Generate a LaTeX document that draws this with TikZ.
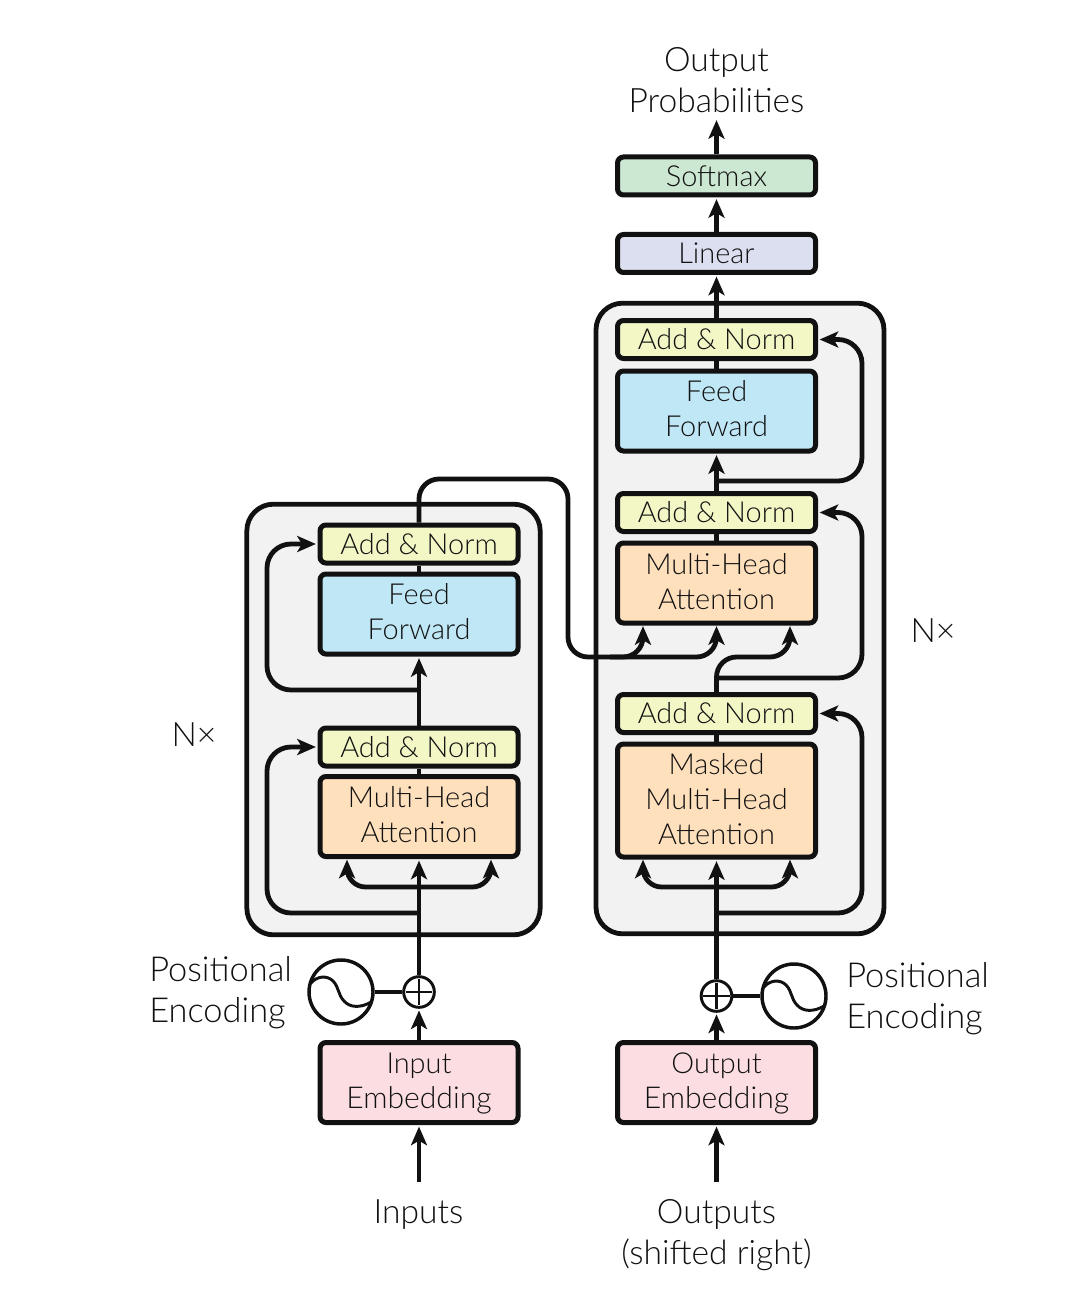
\documentclass[tikz,border=0pt]{standalone}
\usepackage{fontspec}
\setmainfont{Lato}[UprightFont=* Light]
\usetikzlibrary{arrows.meta,positioning}
\definecolor{ink}{HTML}{111111}
\definecolor{cAN}{HTML}{F3F6C5}
\definecolor{cFF}{HTML}{C0E7F6}
\definecolor{cMH}{HTML}{FFE0BD}
\definecolor{cEM}{HTML}{FBDDE2}
\definecolor{cSM}{HTML}{CCE7D2}
\definecolor{cLN}{HTML}{DCDFF0}
\definecolor{cBG}{HTML}{F2F2F2}
\newcommand{\wideword}[1]{{\fontsize{22.6}{26.25}\selectfont #1}}
\tikzset{
  stk/.style={draw=ink,line width=3.75pt,rounded corners=4.5pt,align=center,text=ink,inner sep=0pt,
     minimum width=148.5pt,font=\fontsize{21.7}{26.25}\selectfont},
  an/.style={stk,fill=cAN,minimum height=28.5pt},
  tall/.style={stk,minimum height=60pt},
  thin/.style={stk,minimum height=28.5pt},
  big/.style={draw=ink,line width=3.6pt,fill=cBG,rounded corners=20pt},
  lab/.style={align=center,text=ink,inner sep=0pt,font=\fontsize{25.2}{30.75}\selectfont},
  labl/.style={lab,align=left,anchor=west,font=\fontsize{25.8}{30.75}\selectfont},
  wire/.style={draw=ink,line width=3.6pt,rounded corners=14pt},
  wirea/.style={wire,-{Stealth[length=14pt,width=12pt,inset=3.5pt]},shorten >=1.2pt},
  pluss/.style={circle,draw=ink,line width=2.2pt,fill=white,minimum size=23pt,inner sep=0pt},
  sine/.style={circle,draw=ink,line width=2.6pt,fill=white,minimum size=48pt,inner sep=0pt},
  sinecurve/.style={draw=ink,line width=2.2pt},
  plusbar/.style={draw=ink,line width=1.6pt,shorten >=2.8pt,shorten <=2.8pt}
}
\begin{document}
\begin{tikzpicture}[x=.75pt,y=-.75pt]
\useasboundingbox (0,0) rectangle (1088,1294);
\fill[white] (0,0) rectangle (1088,1294);
% stack frames
\node[big,minimum width=220pt,minimum height=323pt] (encbox) at (393.5,719.5) {};
\node[big,minimum width=216pt,minimum height=473pt] (decbox) at (740,618.5) {};
% encoder boxes
\node[an] (ean2) at (419,544) {Add \& Norm};
\node[tall,fill=cFF,text depth=4.5pt] (eff) at (419,614) {Feed\\Forward};
\node[an] (ean1) at (419,747) {Add \& Norm};
\node[tall,fill=cMH,text depth=3pt] (emh) at (419,816.5) {Multi-Head\\Attention};
\node[tall,fill=cEM,text depth=2.5pt] (eem) at (419,1082.5) {Input\\\wideword{Embedding}};
% decoder boxes
\node[thin,fill=cSM] (soft) at (716.5,176) {Softmax};
\node[thin,fill=cLN] (lin) at (716.5,253.5) {Linear};
\node[an] (dan3) at (716.5,339.5) {Add \& Norm};
\node[tall,fill=cFF,text depth=4.5pt] (dff) at (716.5,411) {Feed\\Forward};
\node[an] (dan2) at (716.5,512.5) {Add \& Norm};
\node[tall,fill=cMH,text depth=3pt] (dmh) at (716.5,583) {Multi-Head\\Attention};
\node[an] (dan1) at (716.5,713.5) {Add \& Norm};
\node[stk,fill=cMH,minimum height=84.75pt,text depth=3pt] (dmm) at (716.5,800.5) {Masked\\Multi-Head\\Attention};
\node[tall,fill=cEM,text depth=2.5pt] (dem) at (716.5,1082.5) {Output\\\wideword{Embedding}};
% positional encoding symbols
\node[pluss] (ep) at (419,992) {};
\node[sine] (es) at (341,992) {};
\node[pluss] (dp) at (716.5,996) {};
\node[sine] (ds) at (794,996) {};
\foreach \c in {ep,dp}{
  \draw[plusbar] (\c.north) -- (\c.south);
  \draw[plusbar] (\c.west) -- (\c.east);
}
\foreach \c in {es,ds}{
  \draw[sinecurve,shift={(\c)}] (-30,-9) .. controls (-24,-16) and (-14,-17) .. (-8,-11)
     .. controls (-2,-5) and (-3,3) .. (3,9) .. controls (9,16) and (20,16) .. (30,10);
}
% coordinates
\coordinate (in) at (419,1182);
\coordinate (out) at (716.5,1182);
\coordinate (prob) at (716.5,118.5);
\coordinate (ebr) at (419,887);
\coordinate (etl) at (347,858);
\coordinate (etr) at (491,858);
\coordinate (ers1) at (419,913);
\coordinate (ec1) at (267,913);
\coordinate (ers2) at (419,690);
\coordinate (ec2) at (267,690);
\coordinate (dbr) at (716.5,887);
\coordinate (dtl) at (643,858);
\coordinate (dtr) at (790,858);
\coordinate (drs1) at (716.5,913);
\coordinate (dc1) at (862,913);
\coordinate (drs2) at (716.5,678);
\coordinate (dc2) at (862,678);
\coordinate (drs3) at (716.5,481);
\coordinate (dc3) at (862,481);
\coordinate (mem2) at (568,479);
\coordinate (mem3) at (568,657);
\coordinate (memm) at (610,657);
\coordinate (ma) at (643,624.5);
\coordinate (mb) at (716.5,624.5);
\coordinate (mc) at (790,624.5);
\coordinate (qy) at (716.5,657);
% vertical encoder flow
\draw[wirea] (in) -- (eem.south);
\draw[wirea] (eem.north) -- (ep.south);
\draw[wire] (es.east) -- (ep.west);
\draw[wirea] (ep.north) -- (emh.south);
\draw[wire] (emh.north) -- (ean1.south);
\draw[wirea] (ean1.north) -- (eff.south);
\draw[wire] (eff.north) -- (ean2.south);
% encoder branches
\draw[wirea] (ebr) -| (etl);
\draw[wirea] (ebr) -| (etr);
\draw[wirea,rounded corners=18pt] (ers1) -- (ec1) |- (ean1.west);
\draw[wirea,rounded corners=18pt] (ers2) -- (ec2) |- (ean2.west);
% memory to decoder
\draw[wirea,rounded corners=15pt] (ean2.north) |- (mem2) -- (mem3) -| (ma);
\draw[wirea,rounded corners=15pt] (memm) -| (mb);
% vertical decoder flow
\draw[wirea] (out) -- (dem.south);
\draw[wirea] (dem.north) -- (dp.south);
\draw[wire] (ds.west) -- (dp.east);
\draw[wirea] (dp.north) -- (dmm.south);
\draw[wire] (dmm.north) -- (dan1.south);
\draw[wirea,rounded corners=15pt] (dan1.north) -- (qy) -| (mc);
\draw[wirea] (dbr) -| (dtl);
\draw[wirea] (dbr) -| (dtr);
\draw[wire] (dmh.north) -- (dan2.south);
\draw[wirea] (dan2.north) -- (dff.south);
\draw[wire] (dff.north) -- (dan3.south);
\draw[wirea] (dan3.north) -- (lin.south);
\draw[wirea] (lin.north) -- (soft.south);
\draw[wirea] (soft.north) -- (prob);
\draw[wirea,rounded corners=18pt] (drs1) -- (dc1) |- (dan1.east);
\draw[wirea,rounded corners=18pt] (drs2) -- (dc2) |- (dan2.east);
\draw[wirea,rounded corners=18pt] (drs3) -- (dc3) |- (dan3.east);
% labels
\node[lab] (tprob) at (716.5,80) {Output\\Probabilities};
\node[lab] (tin) at (418.5,1215) {Inputs};
\node[lab] (tout) at (716.5,1235.5) {Outputs\\(shifted right)};
\node[lab] (tne) at (194,735) {N×};
\node[lab] (tnd) at (933,631) {N×};
\node[labl] (tpe) at (149,993) {Positional\\Encoding};
\node[labl] (tpd) at (846,999) {Positional\\Encoding};
\end{tikzpicture}
\end{document}
